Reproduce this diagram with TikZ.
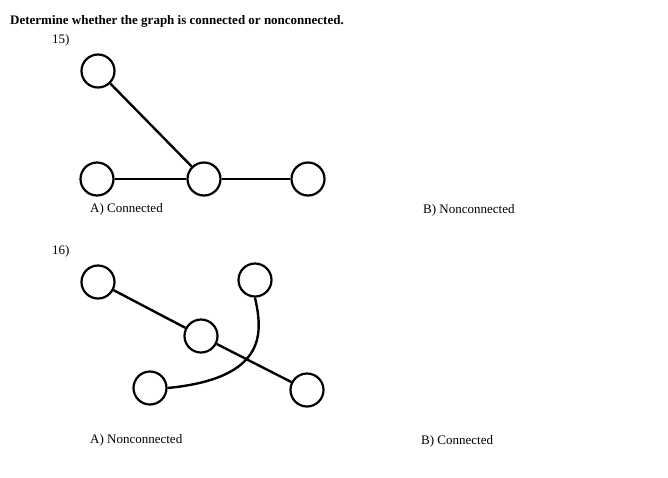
\documentclass[tikz,border=0pt]{standalone}
\usepackage{fontspec}
\setmainfont{Liberation Serif}
\begin{document}
\begin{tikzpicture}[x=1pt,y=-1pt,
  vtx/.style={circle,draw,line width=2.2pt,minimum size=33pt,inner sep=0pt},
  edge/.style={line width=2.4pt},
  lbl/.style={anchor=west,inner sep=0pt,font=\fontsize{13}{15}\selectfont}]
\useasboundingbox (0,0) rectangle (668,477);
\node[lbl,font=\fontsize{13}{15}\selectfont\bfseries] (t) at (10,21) {Determine whether the graph is connected or nonconnected.};
\node[lbl] (n15) at (52,40) {15)};
\node[vtx] (a1) at (98,71) {};
\node[vtx] (a2) at (97,179) {};
\node[vtx] (a3) at (204,179) {};
\node[vtx] (a4) at (308,179) {};
\draw[edge] (a1) -- (a3);
\draw[edge] (a2) -- (a3);
\draw[edge] (a3) -- (a4);
\node[lbl] (o1) at (90,209) {A) Connected};
\node[lbl] (o2) at (423,210) {B) Nonconnected};
\node[lbl] (n16) at (52,251) {16)};
\node[vtx] (b1) at (98,282) {};
\node[vtx] (b2) at (201,336) {};
\node[vtx] (b3) at (255,280) {};
\node[vtx] (b4) at (150,388) {};
\node[vtx] (b5) at (307,390) {};
\draw[edge] (b1) -- (b2);
\draw[edge] (b2) -- (b5);
\draw[edge] (b3.south) .. controls (262,330) and (270,378) .. (b4.east);
\node[lbl] (o3) at (90,440) {A) Nonconnected};
\node[lbl] (o4) at (421,441) {B) Connected};
\end{tikzpicture}
\end{document}
